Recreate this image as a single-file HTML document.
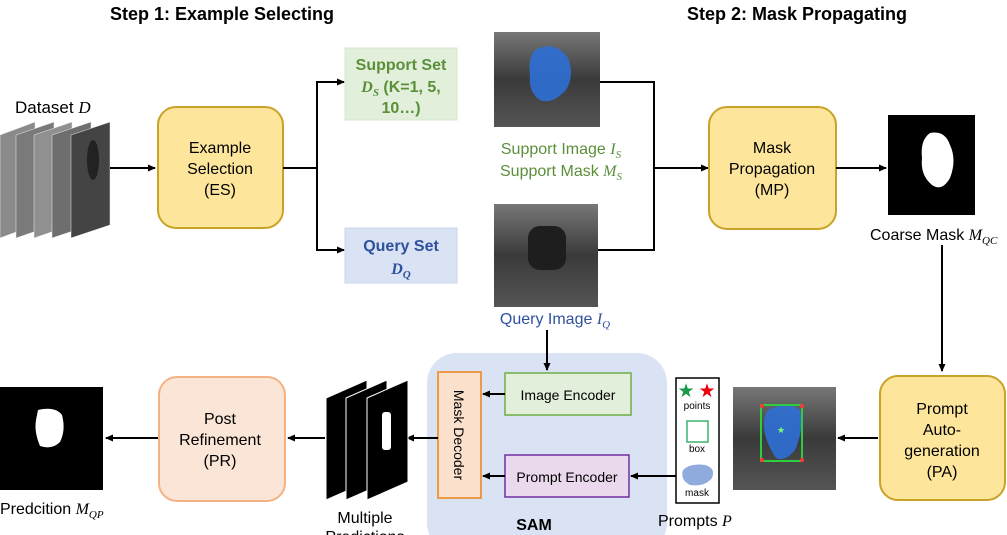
<!DOCTYPE html>
<html><head><meta charset="utf-8"><style>
body{margin:0;background:#fff;width:1007px;height:535px;overflow:hidden}
svg{display:block;font-family:"Liberation Sans",sans-serif}
.i{font-family:"Liberation Serif",serif;font-style:italic}
</style></head><body>
<svg width="1007" height="535" viewBox="0 0 1007 535" xmlns="http://www.w3.org/2000/svg">
<defs>
<marker id="a" markerWidth="8" markerHeight="8" refX="7" refY="4" orient="auto" markerUnits="userSpaceOnUse"><path d="M0,0.5 L8,4 L0,7.5z" fill="#000"/></marker>
<linearGradient id="us" x1="0" y1="0" x2="0" y2="1"><stop offset="0" stop-color="#777"/><stop offset="0.5" stop-color="#3a3a3a"/><stop offset="1" stop-color="#555"/></linearGradient>
</defs>
<g font-weight="bold" font-size="18" text-anchor="middle">
<text x="222" y="20">Step 1: Example Selecting</text>
<text x="797" y="20">Step 2: Mask Propagating</text>
</g>
<text x="15" y="113" font-size="17">Dataset <tspan class="i">D</tspan></text>
<g stroke="#eee" stroke-width="0.5">
<polygon points="0,135 35,122 35,225 0,238" fill="#8a8a8a"/>
<polygon points="16,135 54,122 54,225 16,238" fill="#7a7a7a"/>
<polygon points="34,135 72,122 72,225 34,238" fill="#909090"/>
<polygon points="52,135 91,122 91,225 52,238" fill="#6e6e6e"/>
<polygon points="71,135 110,122 110,225 71,238" fill="#444"/>
</g>
<ellipse cx="93" cy="160" rx="6" ry="20" fill="#222"/>
<line x1="110" y1="168" x2="155" y2="168" stroke="#000" stroke-width="2" marker-end="url(#a)"/>
<rect x="158" y="107" width="125" height="121" rx="18" fill="#fde69b" stroke="#c9a227" stroke-width="2"/>
<g font-size="16" text-anchor="middle"><text x="220" y="153">Example</text><text x="220" y="174">Selection</text><text x="220" y="195">(ES)</text></g>
<path d="M283,168 H317 V82 H343 M317,168 V250 H343" fill="none" stroke="#000" stroke-width="2"/>
<line x1="330" y1="82" x2="344" y2="82" stroke="#000" stroke-width="2" marker-end="url(#a)"/>
<line x1="330" y1="250" x2="344" y2="250" stroke="#000" stroke-width="2" marker-end="url(#a)"/>
<rect x="345" y="48" width="112" height="72" fill="#e2efda" stroke="#d5e8cc"/>
<g font-size="16" font-weight="bold" fill="#5b8f3a" text-anchor="middle"><text x="401" y="70">Support Set</text><text x="401" y="92"><tspan class="i">D<tspan font-size="11" dy="4">S</tspan></tspan><tspan dy="-4"> (K=1, 5,</tspan></text><text x="401" y="113">10…)</text></g>
<rect x="345" y="228" width="112" height="55" fill="#dae3f3" stroke="#c9d6ee"/>
<g font-size="16" font-weight="bold" fill="#2f519c" text-anchor="middle"><text x="401" y="251">Query Set</text><text x="401" y="274" class="i">D<tspan font-size="11" dy="4">Q</tspan></text></g>
<rect x="494" y="32" width="106" height="95" fill="url(#us)"/>
<path d="M535,50 Q555,40 568,58 Q575,75 566,90 Q552,105 540,100 Q528,92 530,75 Q528,58 535,50z" fill="#2f6fd6" opacity="0.9"/>
<g font-size="16" fill="#5b8f3a" text-anchor="middle"><text x="561" y="154">Support Image <tspan class="i">I<tspan font-size="11" dy="4">S</tspan></tspan></text><text x="561" y="176">Support Mask <tspan class="i">M<tspan font-size="11" dy="4">S</tspan></tspan></text></g>
<rect x="494" y="204" width="104" height="103" fill="url(#us)"/>
<rect x="528" y="226" width="38" height="44" rx="12" fill="#1e1e1e"/>
<text x="555" y="324" font-size="16" fill="#2f519c" text-anchor="middle">Query Image <tspan class="i">I<tspan font-size="11" dy="4">Q</tspan></tspan></text>
<path d="M600,82 H654 V250 H598 M654,168 H700" fill="none" stroke="#000" stroke-width="2"/>
<line x1="690" y1="168" x2="708" y2="168" stroke="#000" stroke-width="2" marker-end="url(#a)"/>
<rect x="709" y="107" width="127" height="122" rx="18" fill="#fde69b" stroke="#c9a227" stroke-width="2"/>
<g font-size="16" text-anchor="middle"><text x="772" y="153">Mask</text><text x="772" y="174">Propagation</text><text x="772" y="195">(MP)</text></g>
<line x1="836" y1="168" x2="886" y2="168" stroke="#000" stroke-width="2" marker-end="url(#a)"/>
<rect x="888" y="115" width="87" height="100" fill="#000"/>
<path d="M930,133 Q945,130 950,145 Q957,160 950,178 Q942,192 932,185 Q920,175 922,158 Q920,140 930,133z" fill="#fff"/>
<text x="870" y="240" font-size="16">Coarse Mask <tspan class="i">M<tspan font-size="11" dy="4">QC</tspan></tspan></text>
<line x1="942" y1="245" x2="942" y2="371" stroke="#000" stroke-width="2" marker-end="url(#a)"/>
<rect x="880" y="376" width="125" height="124" rx="18" fill="#fde69b" stroke="#c9a227" stroke-width="2"/>
<g font-size="16" text-anchor="middle"><text x="942" y="414">Prompt</text><text x="942" y="435">Auto-</text><text x="942" y="456">generation</text><text x="942" y="477">(PA)</text></g>
<line x1="878" y1="438" x2="838" y2="438" stroke="#000" stroke-width="2" marker-end="url(#a)"/>
<rect x="733" y="387" width="103" height="103" fill="url(#us)"/>
<path d="M772,408 Q790,402 800,410 Q804,430 795,450 Q785,462 776,458 Q764,440 764,425 Q764,410 772,408z" fill="#2f6fd6" opacity="0.9"/>
<rect x="761" y="405" width="41" height="56" fill="none" stroke="#2ecc40" stroke-width="2"/>
<text x="781" y="433" font-size="9" fill="#7f7" text-anchor="middle">★</text>
<g fill="#f33"><circle cx="762" cy="406" r="2"/><circle cx="802" cy="406" r="2"/><circle cx="762" cy="460" r="2"/><circle cx="802" cy="460" r="2"/></g>
<rect x="676" y="378" width="43" height="125" fill="#fff" stroke="#000" stroke-width="1.5"/>
<text x="686" y="397" font-size="19" fill="#1a9a4a" text-anchor="middle">★</text>
<text x="707" y="397" font-size="19" fill="#e01" text-anchor="middle">★</text>
<text x="697" y="409" font-size="10" text-anchor="middle">points</text>
<rect x="687" y="421" width="21" height="21" fill="none" stroke="#3cb371" stroke-width="1.5"/>
<text x="697" y="452" font-size="10" text-anchor="middle">box</text>
<path d="M683,470 Q690,463 705,465 Q716,468 712,478 Q705,487 690,485 Q680,480 683,470z" fill="#8faadc"/>
<text x="697" y="496" font-size="10" text-anchor="middle">mask</text>
<rect x="427" y="353" width="240" height="200" rx="30" fill="#dae3f3"/>
<text x="658" y="526" font-size="16">Prompts <tspan class="i">P</tspan></text>
<text x="534" y="530" font-size="16" font-weight="bold" text-anchor="middle">SAM</text>
<line x1="676" y1="476" x2="631" y2="476" stroke="#000" stroke-width="2" marker-end="url(#a)"/>
<rect x="505" y="373" width="126" height="42" fill="#e2efda" stroke="#70ad47" stroke-width="1.5"/>
<text x="568" y="400" font-size="14" text-anchor="middle">Image Encoder</text>
<rect x="505" y="455" width="124" height="42" fill="#ead9ec" stroke="#7030a0" stroke-width="1.5"/>
<text x="567" y="482" font-size="14" text-anchor="middle">Prompt Encoder</text>
<rect x="438" y="372" width="43" height="126" fill="#fbe1cc" stroke="#ed9b4b" stroke-width="2"/>
<text x="0" y="0" font-size="14" transform="translate(454,435) rotate(90)" text-anchor="middle">Mask Decoder</text>
<line x1="505" y1="394" x2="483" y2="394" stroke="#000" stroke-width="2" marker-end="url(#a)"/>
<line x1="505" y1="476" x2="483" y2="476" stroke="#000" stroke-width="2" marker-end="url(#a)"/>
<line x1="547" y1="330" x2="547" y2="370" stroke="#000" stroke-width="2" marker-end="url(#a)"/>
<line x1="438" y1="438" x2="407" y2="438" stroke="#000" stroke-width="2" marker-end="url(#a)"/>
<g stroke="#fff" stroke-width="1">
<polygon points="326,398 367,380 367,482 326,500" fill="#000"/>
<polygon points="346,398 387,380 387,482 346,500" fill="#000"/>
<polygon points="367,398 408,380 408,482 367,500" fill="#000"/>
</g>
<rect x="382" y="412" width="9" height="38" rx="3" fill="#fff"/>
<text x="365" y="523" font-size="16" text-anchor="middle">Multiple</text>
<text x="365" y="542" font-size="16" text-anchor="middle">Predictions</text>
<line x1="325" y1="438" x2="288" y2="438" stroke="#000" stroke-width="2" marker-end="url(#a)"/>
<rect x="159" y="377" width="126" height="124" rx="18" fill="#fbe5d6" stroke="#f4b183" stroke-width="2"/>
<g font-size="16" text-anchor="middle"><text x="220" y="424">Post</text><text x="220" y="445">Refinement</text><text x="220" y="466">(PR)</text></g>
<line x1="158" y1="438" x2="106" y2="438" stroke="#000" stroke-width="2" marker-end="url(#a)"/>
<rect x="0" y="387" width="103" height="103" fill="#000"/>
<path d="M38,410 Q55,406 62,415 Q66,430 60,442 Q52,450 40,446 Q34,432 36,420z" fill="#fff"/>
<text x="0" y="514" font-size="16">Predcition <tspan class="i">M<tspan font-size="11" dy="4">QP</tspan></tspan></text>
</svg>
</body></html>
